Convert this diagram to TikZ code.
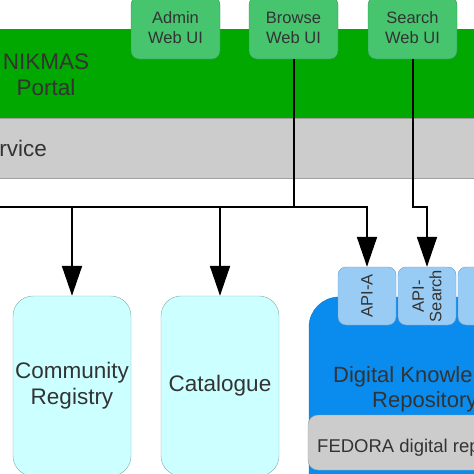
\documentclass[tikz,border=0pt]{standalone}
\usepackage{fontspec}
\setmainfont{Liberation Sans}
\usetikzlibrary{arrows.meta}
\definecolor{portalgreen}{HTML}{00A800}
\definecolor{uigreen}{HTML}{46C46E}
\definecolor{uiborder}{HTML}{2E9A50}
\definecolor{svcgray}{HTML}{CCCCCC}
\definecolor{svcborder}{HTML}{A0A0A0}
\definecolor{regcyan}{HTML}{CCFFFF}
\definecolor{regborder}{HTML}{88AAAA}
\definecolor{dkblue}{HTML}{0A8CEE}
\definecolor{apiblue}{HTML}{99CCF5}
\definecolor{apiborder}{HTML}{6A9ACB}
\definecolor{txt}{HTML}{333333}
\begin{document}
\begin{tikzpicture}[x=1pt,y=-1pt,>={Triangle[length=30pt,width=20pt]},
  big/.style={text=txt,font=\fontsize{22.5}{26}\selectfont,align=center,inner sep=0pt},
  webui/.style={draw=uiborder,fill=uigreen,rounded corners=8pt,minimum width=89pt,minimum height=62pt,
    text=txt,font=\fontsize{16.5}{20}\selectfont,align=center,inner sep=0pt},
  store/.style={big,draw=regborder,fill=regcyan,rounded corners=20pt,minimum width=118pt,minimum height=180pt},
  api/.style={draw=apiborder,fill=apiblue,rounded corners=8pt,minimum size=58pt,inner sep=0pt},
  apitext/.style={text=txt,font=\fontsize{16.5}{17.5}\selectfont,align=center,rotate=90,inner sep=0pt},
  wire/.style={line width=2pt}]
\useasboundingbox (0,0) rectangle (474,474);
\clip (0,0) rectangle (474,474);
\fill[portalgreen] (-5,29) rectangle (480,118);
\filldraw[fill=svcgray,draw=svcborder] (-5,118) rectangle (480,178);
\node[big] (portal) at (46,75) {NIKMAS\\Portal};
\node[big,anchor=base east] (service) at (47,156) {rvice};
\node[webui] (admin) at (175.5,28) {Admin\\Web UI};
\node[webui] (browse) at (293.5,28) {Browse\\Web UI};
\node[webui] (search) at (412.5,28) {Search\\Web UI};
\node[store] (comm) at (72,386) {Community\\Registry};
\node[store] (cat) at (220,386) {Catalogue};
\filldraw[fill=dkblue,draw=dkblue!85!black,rounded corners=30pt] (309,480) -- (309,297) -- (490,297) -- (490,480);
\node[big,font=\fontsize{22}{26}\selectfont,anchor=base west] (dkr) at (333,382) {Digital Knowle};
\node[big,font=\fontsize{22}{26}\selectfont,anchor=base west] (repo) at (372,407) {Repository};
\filldraw[fill=svcgray,draw=svcborder,rounded corners=10pt] (308,415) rectangle (500,470);
\node[big,font=\fontsize{18.5}{22}\selectfont,anchor=base west] (fedora) at (317,452) {FEDORA digital rep};
\node[api] (apia) at (367,296) {};
\node[apitext] at (apia) {API-A};
\node[api] (apis) at (427,296) {};
\node[apitext] at (apis) {API-\\Search};
\node[api] (apix) at (487,296) {};
\coordinate (busw) at (-5,207);
\draw[wire] (busw) -- (browse.south |- busw);
\draw[wire,->] (browse.south) |- (apia.north |- busw) -- (apia.north);
\draw[wire,->] (comm.north |- busw) -- (comm.north);
\draw[wire,->] (cat.north |- busw) -- (cat.north);
\draw[wire,->] (search.south) |- (apis.north |- busw) -- (apis.north);
\end{tikzpicture}
\end{document}
